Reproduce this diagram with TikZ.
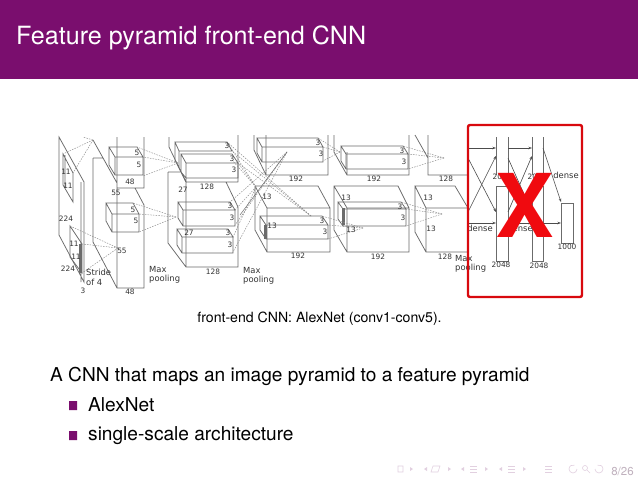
\documentclass[tikz,border=0pt]{standalone}
\usepackage{fontspec}
\setmainfont{TeX Gyre Heros}
\newfontfamily\dimfont{DejaVu Sans}
\definecolor{headbar}{RGB}{122,14,110}
\definecolor{navsym}{RGB}{226,208,224}
\definecolor{wire}{gray}{0.42}
\definecolor{crossred}{RGB}{240,10,15}
\usetikzlibrary{arrows.meta}
\tikzset{
  wirel/.style={draw=wire, line width=0.75pt},
  dotl/.style={draw=wire!80, line width=0.45pt, dash pattern=on 1.5pt off 1.2pt},
  flow/.style={draw=black!70, line width=0.6pt, -{Stealth[length=3.5pt,width=2.5pt]}},
  dim/.style={font=\dimfont\fontsize{7.4}{8}\selectfont, text=black!80, inner sep=0pt},
  layertxt/.style={font=\dimfont\fontsize{8.4}{10}\selectfont, text=black!80, inner sep=0pt, anchor=west},
  bodytxt/.style={font=\fontsize{19.1}{21}\selectfont, inner sep=0pt, anchor=base west},
  navs/.style={draw=navsym, line width=0.6pt},
}
% back left x, back top y, back right x, height, shift of the front face
\newcommand{\kernbox}[6]{%
  \draw[wirel] (#1,#2) -- (#3,#2) -- (#3+#5,#2+#6) -- (#1+#5,#2+#6) -- cycle
    (#1,#2) -- (#1,#2+#4) -- (#1+#5,#2+#4+#6) -- (#3+#5,#2+#4+#6) -- (#3+#5,#2+#6)
    (#1+#5,#2+#6) -- (#1+#5,#2+#4+#6);
}
\begin{document}
\begin{tikzpicture}[x=1pt, y=-1pt]
  \useasboundingbox (0,0) rectangle (638,479);
  \fill[white] (0,0) rectangle (638,479);
  \fill[headbar] (0,0) rectangle (638,79);
  \node[bodytxt, font=\fontsize{25.1}{27}\selectfont, text=white] (title) at (16,45) {Feature pyramid front-end CNN};

  % input image and first layer
  \draw[wirel] (59,137) -- (84,182) -- (84,282) -- (59,235) -- cycle (81,182) -- (81,282);
  \draw[wirel] (63,154) -- (73,173) -- (73,202) -- (63,185) -- cycle (65,155) -- (65,187);
  \draw[wirel] (70,226) -- (82,244) -- (82,273) -- (70,257) -- cycle;
  \fill[wire] (79,244) rectangle (82,273);
  \draw[wirel] (93,140) -- (117,183) (93,158) -- (103,158) -- (117,183) (93,158) -- (93,242) -- (117,288) -- (144,288) -- (144,205) -- (135,188)
    (117,137) -- (117,288) (144,137) -- (144,188) -- (117,188);
  \kernbox{109}{147}{137}{18}{6}{10}
  \kernbox{106}{203}{133}{18}{6}{11}

  % second layer
  \draw[wirel] (169,137) -- (169,147) -- (186,182) -- (238,182) (238,135) -- (238,182) (186,182) -- (186,267)
    (168,172) -- (180,172) (168,172) -- (168,243) -- (186,267) -- (238,267) -- (238,207) -- (226,182);
  \draw[wirel] (175,142) -- (227,142) -- (232,151) -- (179,151) -- cycle (175,142) -- (175,160) -- (186,182)
    (179,151) -- (179,168) (181,154) -- (232,154) -- (238,163) -- (186,163) -- cycle
    (238,163) -- (238,178) -- (186,178) (186,163) -- (186,182) (181,154) -- (181,172) -- (186,178);
  \kernbox{178}{202}{230}{16}{5}{8}
  \kernbox{177}{229}{228}{16}{5}{8}

  % third layer
  \draw[wirel] (254,135) -- (254,150) -- (266,175) -- (328,175) -- (328,135) (266,135) -- (266,175);
  \kernbox{257}{138}{318}{15}{5}{9}
  \draw[wirel] (255,186) -- (318,186) -- (330,208) -- (330,252) -- (267,252) -- (255,230) -- cycle (267,208) -- (330,208) (267,208) -- (267,252) (255,186) -- (267,208);
  \kernbox{260}{216}{322}{14}{6}{9}
  \fill[wire] (264,225) rectangle (267,239);

  % fourth layer
  \draw[wirel] (334,135) -- (334,152) -- (347,175) -- (409,175) -- (409,135) (347,152) -- (347,175);
  \kernbox{341}{146}{403}{15}{5}{8}
  \draw[wirel] (334,186) -- (398,186) -- (409,208) -- (409,252) -- (347,252) -- (334,230) -- cycle (334,186) -- (347,208) -- (409,208) (347,208) -- (347,252);
  \kernbox{338}{202}{401}{17}{5}{7}
  \fill[wire] (342,208) rectangle (345,225);

  % fifth layer
  \draw[wirel] (415,135) -- (428,158) (428,135) -- (428,175) -- (468,175);
  \draw[wirel] (415,186) -- (455,186) -- (468,208) -- (426,208) -- cycle (415,186) -- (415,232) -- (426,252) -- (468,252) (426,208) -- (426,252);

  % receptive field lines
  \foreach \ax/\ay/\pts in {
    93/140/{(63,154),(73,173),(83,137)},
    118/248/{(70,226),(82,244),(82,273)},
    178/163/{(137,147),(143,157),(143,176)},
    176/217/{(133,203),(139,214),(139,232)},
    256/187/{(227,142),(232,160),(238,163),(235,210),(233,237)},
    287/152/{(230,202),(235,225),(233,252)},
    311/216/{(227,142),(232,151),(238,163)},
    340/152/{(318,138),(323,147),(323,161)},
    363/228/{(322,216),(328,225),(328,239)},
    444/158/{(403,146),(408,154),(408,169)},
    442/214/{(401,202),(406,209),(406,226)}} {
    \foreach \p in \pts { \draw[dotl] (\ax,\ay) -- \p; }
  }
  \draw[wirel, line width=0.5pt] (287,152) -- (240,215);

  % dense layers
  \draw[wirel] (496,137) -- (496,175) (508,137) -- (508,175) (532,137) -- (532,175) (543,137) -- (543,175);
  \draw[wirel] (496,186) rectangle (508,261) (532,186) rectangle (543,261) (561,203) rectangle (573,243);
  \foreach \xa/\ya/\xb/\yb in {468/148/496/148, 508/148/532/148, 468/158/496/212, 468/212/496/156, 468/223/496/223,
    508/158/532/212, 508/212/532/156, 508/223/532/223, 543/223/561/223, 543/148/561/202} {
    \draw[flow] (\xa,\ya) -- (\xb,\yb);
  }

  % sizes
  \foreach \lx/\ly/\lab [count=\i] in {66/172/11, 68/186/11, 66/219/224, 74/244/11, 76/257/11, 68/269/224, 83/291/3,
    116/193/55, 122/251/55, 137/153/5, 139/165/5, 130/182/48, 133/210/5, 136/221/5, 130/292/48,
    183/190/27, 207/187/128, 227/146/3, 232/159/3, 234/170/3, 230/206/3, 232/218/3, 189/233/27, 228/233/3, 230/245/3, 213/272/128,
    318/143/3, 321/154/3, 296/179/192, 402/151/3, 404/162/3, 374/179/192, 267/197/13, 346/198/13, 428/198/13,
    322/221/3, 325/232/3, 272/226/13, 400/207/3, 403/218/3, 351/230/13, 431/229/13, 298/256/192, 378/257/192,
    446/179/128, 445/257/128, 502/177/2048, 537/177/2048, 501/265/2048, 539/266/2048, 567/247/1000} {
    \node[dim] (size\i) at (\lx,\ly) {\lab};
  }
  \foreach \lx/\ly/\lab [count=\i] in {86/272/Stride, 86/282/of 4, 149/269/Max, 149/279/pooling, 243/270/Max, 243/280/pooling,
    455/258/Max, 455/268/pooling} {
    \node[layertxt] (layer\i) at (\lx,\ly) {\lab};
  }
  \foreach \lx/\ly [count=\i] in {480/228, 520/228, 566/175} {
    \node[layertxt, anchor=center] (dense\i) at (\lx,\ly) {dense};
  }

  % dropped part
  \draw[crossred!90!black, line width=2.4pt, rounded corners=2pt] (468,125) rectangle (582,297);
  \node[font=\fontsize{88}{88}\selectfont\bfseries, text=crossred, inner sep=0pt] (cross) at (525,205) {X};

  \node[font=\fontsize{14.1}{16}\selectfont, inner sep=0pt] (caption) at (319.5,319) {front-end CNN: AlexNet (conv1-conv5).};
  \node[bodytxt] (intro) at (50,381) {A CNN that maps an image pyramid to a feature pyramid};
  \fill[headbar] (69,401) rectangle (77,410) (69,431) rectangle (77,440);
  \node[bodytxt] (item1) at (88,411) {AlexNet};
  \node[bodytxt] (item2) at (88,440) {single-scale architecture};

  % navigation
  \draw[navs] (398,466) rectangle (403,472) (433,466) -- (440,466) -- (438,472) -- (431,472) -- cycle;
  \foreach \nx in {470,508,545} {
    \draw[navs] (\nx,466) -- (\nx+7,466) (\nx,469) -- (\nx+7,469) (\nx,472) -- (\nx+7,472);
  }
  \foreach \nx in {410,448,485,523} {
    \fill[navsym] (\nx,467) -- (\nx+3,469) -- (\nx,471) -- cycle;
  }
  \foreach \nx in {424,461,499} {
    \fill[navsym] (\nx+3,467) -- (\nx,469) -- (\nx+3,471) -- cycle;
  }
  \draw[navs] (577,469) arc (0:290:4) (585,468) circle (2.5) (587,470) -- (590,473) (595,469) arc (180:-110:4);
  \node[font=\fontsize{11.5}{13}\selectfont, text=navsym!85!black, inner sep=0pt] (page) at (622.5,471) {8/26};
\end{tikzpicture}
\end{document}
